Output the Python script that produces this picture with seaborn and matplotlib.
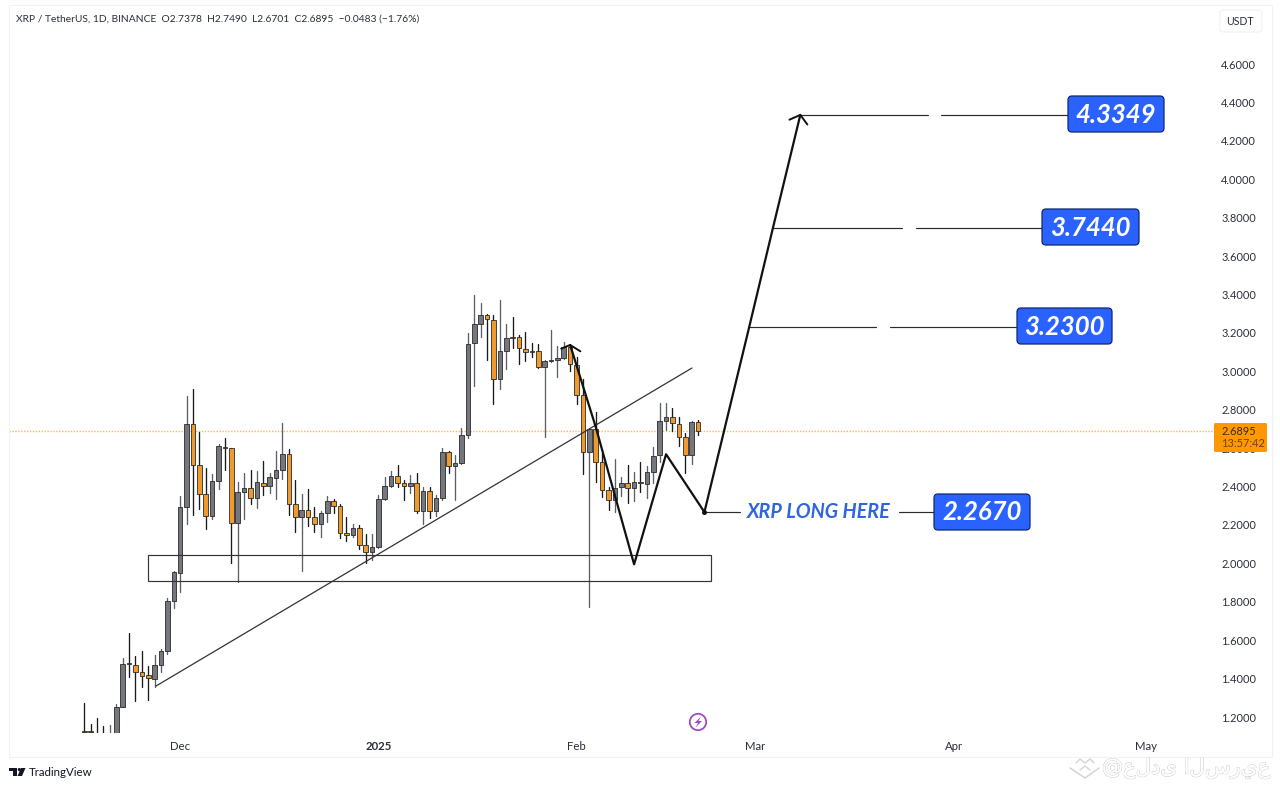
import matplotlib
matplotlib.use("Agg")
import numpy as np
import pandas as pd
import seaborn as sns
import matplotlib.pyplot as plt
from matplotlib.patches import FancyBboxPatch, Polygon, Circle, Rectangle
import matplotlib.patheffects as pe

# ---------- data (prices) ----------
start_date = "2024-11-16"
opens = [1.124,1.124,1.100,1.100,1.090,1.100,1.251,1.480,1.469,1.436,1.417,1.400,1.471,1.546,1.803,1.952,2.295,2.724,2.511,2.360,
         2.245,2.427,2.608,2.603,2.212,2.374,2.394,2.341,2.420,2.403,2.446,2.485,2.568,2.309,2.240,2.280,2.240,2.204,2.264,2.323,
         2.299,2.157,2.150,2.184,2.096,2.061,2.087,2.335,2.405,2.453,2.420,2.401,2.420,2.273,2.375,2.274,2.342,2.578,2.505,2.523,
         2.667,3.146,3.245,3.293,3.267,2.960,3.106,3.180,3.180,3.118,3.106,3.106,3.022,3.055,3.057,3.069,3.128,3.035,2.878,2.582,
         2.700,2.526,2.380,2.328,2.398,2.420,2.394,2.425,2.415,2.476,2.563,2.740,2.760,2.727,2.658,2.564,2.7378]
highs = [1.275,1.164,1.193,1.153,1.157,1.268,1.506,1.636,1.518,1.544,1.466,1.523,1.553,1.818,1.962,2.351,2.873,2.910,2.686,2.495,
         2.464,2.622,2.651,2.603,2.424,2.473,2.486,2.483,2.533,2.473,2.587,2.729,2.596,2.434,2.360,2.389,2.295,2.275,2.351,2.334,
         2.308,2.240,2.205,2.198,2.153,2.153,2.356,2.451,2.483,2.512,2.434,2.460,2.469,2.399,2.399,2.356,2.602,2.585,2.564,2.703,
         3.201,3.399,3.354,3.298,3.293,3.371,3.246,3.285,3.189,3.206,3.146,3.142,3.059,3.215,3.134,3.154,3.137,3.076,2.958,2.700,
         2.790,2.573,2.396,2.545,2.451,2.510,2.477,2.530,2.507,2.608,2.837,2.833,2.807,2.764,2.677,2.743,2.7490]
lows = [1.100,1.100,1.070,1.060,1.070,1.080,1.251,1.407,1.284,1.358,1.289,1.358,1.433,1.528,1.768,1.853,2.205,2.252,2.282,2.179,
        2.230,2.389,2.486,2.004,1.905,2.231,2.309,2.287,2.356,2.368,2.335,2.440,2.252,2.162,1.962,2.197,2.164,2.136,2.217,2.264,
        2.131,2.117,2.136,2.077,2.004,2.018,2.079,2.330,2.399,2.396,2.330,2.365,2.261,2.203,2.234,2.247,2.330,2.472,2.330,2.517,
        2.651,2.924,3.177,3.059,2.830,2.910,3.010,3.120,3.038,3.055,3.073,3.015,2.656,3.050,2.969,3.062,3.003,2.830,2.464,1.775,
        2.425,2.347,2.278,2.269,2.351,2.316,2.326,2.373,2.339,2.417,2.530,2.694,2.691,2.611,2.472,2.516,2.6701]
closes = [1.121,1.121,1.090,1.090,1.100,1.251,1.476,1.476,1.435,1.416,1.402,1.471,1.544,1.803,1.955,2.295,2.724,2.512,2.360,2.247,
          2.427,2.611,2.603,2.212,2.372,2.394,2.341,2.422,2.403,2.448,2.485,2.568,2.311,2.240,2.280,2.240,2.204,2.261,2.323,2.301,
          2.158,2.150,2.183,2.098,2.061,2.084,2.334,2.403,2.453,2.420,2.401,2.420,2.271,2.375,2.274,2.342,2.578,2.505,2.523,2.667,
          3.142,3.245,3.291,3.271,2.960,3.104,3.172,3.175,3.120,3.102,3.102,3.022,3.052,3.059,3.068,3.125,3.036,2.878,2.582,2.700,
          2.528,2.384,2.328,2.394,2.420,2.394,2.425,2.417,2.474,2.557,2.740,2.760,2.729,2.660,2.564,2.738,2.6895]

last_price = 2.6895
price_ticks = [1.2,1.4,1.6,1.8,2.0,2.2,2.4,2.6,2.8,3.0,3.2,3.4,3.6,3.8,4.0,4.2,4.4,4.6]
time_ticks = ["2024-12-01","2025-01-01","2025-02-01","2025-03-01","2025-04-01","2025-05-01"]
time_labels = ["Dec","2025","Feb","Mar","Apr","May"]

# drawing annotations on the chart (day offset, price)
zone_days = [10, 98]
zone_prices = [1.908, 2.0435]
trend_days = [11.2, 95.05]
trend_prices = [1.361, 3.017]
path_days = [76, 80, 86, 91, 97, 104, 107.7, 112]
path_prices = [3.137, 2.710, 1.995, 2.568, 2.267, 3.230, 3.744, 4.3349]
target_labels = ["4.3349", "3.7440", "3.2300", "2.2670"]
target_prices = [4.3349, 3.7440, 3.2300, 2.2670]

# ---------- theme ----------
sns.set_theme(style="white")
plt.rcParams["font.family"] = ["Lato", "Open Sans", "DejaVu Sans"]
TEXT = "#2a2e39"
GREY = "#74777e"
ORANGE = "#ee9a2e"
EDGE = "#2a2a2a"
LINE = "#2a2a2a"
BLUE = "#2962ff"
FRAME = "#f1f2f5"

W, H = 1280, 788
fig = plt.figure(figsize=(W/100, H/100), dpi=100, facecolor="white")
L, R, T, B = 9, 1213, 5, 733
ax = fig.add_axes([L/W, 1-B/H, (R-L)/W, (B-T)/H])

# ---------- candles ----------
start = pd.Timestamp(start_date)
days = np.arange(len(opens))
df = pd.DataFrame({"day": days, "open": opens, "high": highs, "low": lows, "close": closes})
df["dir"] = np.where(df["close"] >= df["open"], "up", "down")
wicks = df.melt(id_vars=["day", "dir"], value_vars=["high", "low"], value_name="price")
sns.lineplot(data=wicks, x="day", y="price", hue="dir", units="day", estimator=None,
             palette={"up": "#5c5f66", "down": "#1a1a1a"}, lw=0.95, legend=False, ax=ax, zorder=2)
body_lo = df[["open", "close"]].min(axis=1)
body_hi = df[["open", "close"]].max(axis=1)
colors = [GREY if d == "up" else ORANGE for d in df["dir"]]
ax.bar(df["day"], (body_hi-body_lo).clip(lower=0.004), bottom=body_lo, width=0.72,
       color=colors, edgecolor=EDGE, linewidth=0.6, zorder=3)

# ---------- price line, zone, trend line, projected path ----------
ax.axhline(last_price, color="#f9a825", lw=1.0, ls=(0, (1, 1.1)), alpha=0.8, zorder=1)
ax.add_patch(Rectangle((zone_days[0], zone_prices[0]), zone_days[1]-zone_days[0], zone_prices[1]-zone_prices[0],
                       fill=False, edgecolor="#333333", lw=0.85, zorder=4))
sns.lineplot(x=trend_days, y=trend_prices, color="#333333", lw=0.9, ax=ax, zorder=4, sort=False, estimator=None)
sns.lineplot(x=path_days, y=path_prices, color="#111111", lw=1.6, ax=ax, zorder=5, sort=False, estimator=None)
# arrow heads
ax.plot([74.6, 76, 77.6], [3.118, 3.137, 3.104], color="#111111", lw=1.4, zorder=5)
ax.plot([110.3, 112, 113.1], [4.31, 4.3349, 4.285], color="#111111", lw=1.4, zorder=5)
ax.plot([97], [2.267], "o", color="#111111", ms=2.6, zorder=6)

# level lines (day offsets where each stretch begins and ends)
seg_sets = [[(112, 132), (134, 153.9)], [(107.7, 127.9), (130.1, 149.8)],
            [(104, 123.9), (126, 145.9)], [(97, 102.6), (127.4, 132.9)]]
for price, segs in zip(target_prices, seg_sets):
    for a, b in segs:
        ax.plot([a, b], [price, price], color=LINE, lw=0.85, zorder=4)

# axes
ax.set_xlim((L-84.3)/6.393, (R-84.3)/6.393)
ax.set_ylim(4.6-(B-64)/192.06, 4.6+(64-T)/192.06)
ax.yaxis.tick_right()
ax.set_yticks(price_ticks)
ax.set_yticklabels([f"{p:.4f}" for p in price_ticks], fontsize=7.9, color=TEXT)
ax.set_xticks([(pd.Timestamp(t)-start).days for t in time_ticks])
ax.set_xticklabels(time_labels, fontsize=8.2, color=TEXT)
ax.get_xticklabels()[1].set_fontweight("bold")
ax.tick_params(axis="y", length=0, pad=6)
ax.tick_params(axis="x", length=0, pad=6)
ax.set_xlabel("")
ax.set_ylabel("")
ax.grid(False)
for s in ax.spines.values():
    s.set_visible(False)

# ---------- overlay in picture pixels ----------
ov = fig.add_axes([0, 0, 1, 1], zorder=10)
ov.set_xlim(0, W)
ov.set_ylim(H, 0)
ov.axis("off")
ov.patch.set_alpha(0)
ov.add_patch(Rectangle((9, 5), 1263, 752, fill=False, edgecolor=FRAME, lw=0.8))

ov.text(16, 19.5, "XRP / TetherUS, 1D, BINANCE  O2.7378  H2.7490  L2.6701  C2.6895  \u22120.0483 (\u22121.76%)",
        fontsize=7.35, color=TEXT, va="center", ha="left")

# value boxes
boxes = [(1068, 96, 96, 36), (1042, 209, 97, 36), (1017, 308, 95, 36), (934, 494, 96, 36)]
for (x, y, w, h), lab in zip(boxes, target_labels):
    ov.add_patch(FancyBboxPatch((x+3, y+3), w-6, h-6, boxstyle="round,pad=3,rounding_size=4",
                                facecolor=BLUE, edgecolor="#12296e", lw=0.9))
    ov.text(x+w/2, y+h/2+0.5, lab, color="white", fontsize=18.5, fontweight="bold", fontstyle="italic",
            ha="center", va="center")
ov.text(819, 511.5, "XRP LONG HERE", color="#2f66dd", fontsize=14.2, fontweight="bold", fontstyle="italic",
        ha="center", va="center")

# last price tag
ov.add_patch(FancyBboxPatch((1215, 424), 51, 27, boxstyle="round,pad=1,rounding_size=1.5",
                            facecolor="#ff9800", edgecolor="none"))
ov.text(1221, 431.5, "2.6895", fontsize=7.9, color="#3a2a10", va="center")
ov.text(1221, 443, "13:57:42", fontsize=7.9, color="#6b4708", va="center")

# currency button
ov.add_patch(FancyBboxPatch((1222, 12), 38, 18, boxstyle="round,pad=2,rounding_size=3",
                            facecolor="white", edgecolor=FRAME, lw=0.8))
ov.text(1240, 21, "USDT", fontsize=7.6, color=TEXT, ha="center", va="center")

# lightning badge
ov.add_patch(Circle((698, 722), 8.2, fill=False, edgecolor="#9c4fc0", lw=1.3))
ov.add_patch(Polygon([(701, 716.5), (694.5, 723), (698, 723), (695.5, 727.5), (702, 721), (698.5, 721)],
                     facecolor="#9c4fc0", edgecolor="none"))

# TradingView footer
ov.add_patch(Polygon([(9, 768), (17, 768), (17, 776), (13, 776), (13, 771), (9, 771)], facecolor="#131722", edgecolor="none"))
ov.add_patch(Circle((19.3, 769.6), 1.6, facecolor="#131722", edgecolor="none"))
ov.add_patch(Polygon([(21, 768), (25.5, 768), (22, 776), (17.5, 776)], facecolor="#131722", edgecolor="none"))
ov.text(29, 772.5, "TradingView", fontsize=8.3, color="#131722", va="center", ha="left")

# watermark
wm = "#d4d4d4"
ov.plot([1070, 1085, 1099], [768, 778, 768], color=wm, lw=1.1)
ov.plot([1076, 1080, 1085, 1090, 1094], [763, 759, 763, 759, 763], color=wm, lw=1.0)
ov.plot([1080, 1085, 1090], [770, 766, 770], color=wm, lw=1.0)
ov.text(1102, 768, "@\u0639\u0644\u062f\u0649 \u0627\u0644\u0633\u0631\u064a\u0639", fontsize=15.2, family=["DejaVu Sans"],
        ha="left", va="center", color="white",
        path_effects=[pe.withStroke(linewidth=0.8, foreground="#c8c8c8"), pe.Normal()])

fig.savefig("out.png", dpi=100, facecolor="white")
